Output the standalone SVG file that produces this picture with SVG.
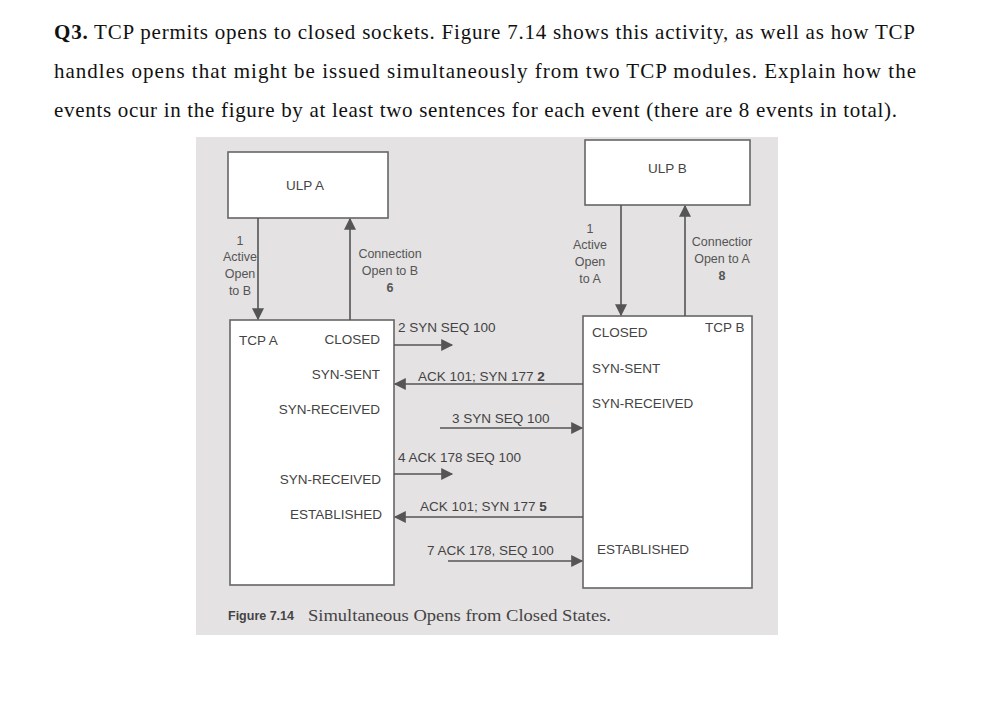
<svg xmlns="http://www.w3.org/2000/svg" width="997" height="726" viewBox="0 0 997 726">
<style>
.q{font-family:"Liberation Serif",serif;font-size:21px;fill:#111}
.s{font-family:"Liberation Sans",Arial,sans-serif;font-size:13.5px;fill:#444}
.n{font-family:"Liberation Sans",Arial,sans-serif;font-size:12.5px;fill:#555}
.box{fill:#fff;stroke:#666;stroke-width:1.6}
.ln{stroke:#555;stroke-width:1.6;fill:none}
</style>
<defs>
<marker id="ah" viewBox="0 0 10 10" refX="9" refY="5" markerWidth="14" markerHeight="12" markerUnits="userSpaceOnUse" orient="auto"><path d="M0,0L10,5L0,10z" fill="#555"/></marker>
</defs>
<rect width="997" height="726" fill="#fff"/>
<text class="q" x="54" y="39" textLength="861" lengthAdjust="spacing"><tspan font-weight="bold">Q3.</tspan> TCP permits opens to closed sockets. Figure 7.14 shows this activity, as well as how TCP</text>
<text class="q" x="54" y="78" textLength="862" lengthAdjust="spacing">handles opens that might be issued simultaneously from two TCP modules. Explain how the</text>
<text class="q" x="54" y="117" textLength="843" lengthAdjust="spacing">events ocur in the figure by at least two sentences for each event (there are 8 events in total).</text>
<rect x="196" y="137" width="582" height="498" fill="#e4e2e3"/>
<g id="ulpA"><rect class="box" x="228" y="152" width="160" height="66"/><text class="s" x="286" y="190">ULP A</text></g>
<g id="ulpB"><rect class="box" x="585" y="140" width="165" height="65"/><text class="s" x="648" y="173">ULP B</text></g>
<g id="tcpA"><rect class="box" x="230" y="320" width="164" height="265"/><text class="s" x="239" y="345">TCP A</text>
<g class="s" text-anchor="end"><text x="380" y="344">CLOSED</text><text x="380" y="379">SYN-SENT</text><text x="380" y="414">SYN-RECEIVED</text><text x="381" y="484">SYN-RECEIVED</text><text x="382" y="519">ESTABLISHED</text></g></g>
<g id="tcpB"><rect class="box" x="583" y="316" width="169" height="272"/><text class="s" x="705" y="332">TCP B</text>
<g class="s"><text x="592" y="337">CLOSED</text><text x="592" y="373">SYN-SENT</text><text x="592" y="408">SYN-RECEIVED</text><text x="597" y="554">ESTABLISHED</text></g></g>
<g id="connectors" class="ln">
<line x1="258" y1="218" x2="258" y2="319" marker-end="url(#ah)"/>
<line x1="350" y1="320" x2="350" y2="219" marker-end="url(#ah)"/>
<line x1="621" y1="205" x2="621" y2="315" marker-end="url(#ah)"/>
<line x1="685" y1="316" x2="685" y2="206" marker-end="url(#ah)"/>
<line x1="394" y1="345" x2="452" y2="345" marker-end="url(#ah)"/>
<line x1="583" y1="384" x2="395" y2="384" marker-end="url(#ah)"/>
<line x1="440" y1="428" x2="582" y2="428" marker-end="url(#ah)"/>
<line x1="394" y1="474" x2="452" y2="474" marker-end="url(#ah)"/>
<line x1="583" y1="517" x2="395" y2="517" marker-end="url(#ah)"/>
<line x1="448" y1="561" x2="582" y2="561" marker-end="url(#ah)"/>
</g>
<g class="n" text-anchor="middle">
<text x="240" y="245">1</text><text x="240" y="261">Active</text><text x="240" y="278">Open</text><text x="240" y="295">to B</text>
<text x="390" y="258">Connection</text><text x="390" y="275">Open to B</text><text x="390" y="292" font-weight="bold">6</text>
<text x="590" y="233">1</text><text x="590" y="249">Active</text><text x="590" y="266">Open</text><text x="590" y="283">to A</text>
<text x="722" y="246">Connectior</text><text x="722" y="263">Open to A</text><text x="722" y="280" font-weight="bold">8</text>
</g>
<g class="s">
<text x="398" y="332">2 SYN SEQ 100</text>
<text x="418" y="381">ACK 101; SYN 177 <tspan font-weight="bold">2</tspan></text>
<text x="452" y="423">3 SYN SEQ 100</text>
<text x="398" y="462">4 ACK 178 SEQ 100</text>
<text x="420" y="511">ACK 101; SYN 177 <tspan font-weight="bold"> 5</tspan></text>
<text x="427" y="555">7 ACK 178, SEQ 100</text>
</g>
<text x="228" y="620" font-family="Liberation Sans,Arial,sans-serif" font-size="12.5" font-weight="bold" fill="#444">Figure 7.14</text>
<text x="308" y="621" font-family="Liberation Serif,serif" font-size="17" fill="#444" textLength="303" lengthAdjust="spacingAndGlyphs">Simultaneous Opens from Closed States.</text>
</svg>
